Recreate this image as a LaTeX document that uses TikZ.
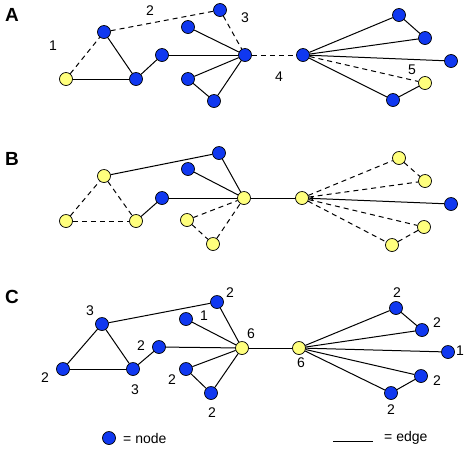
\documentclass[tikz,border=0pt]{standalone}
\usepackage{fontspec}
\setmainfont{Liberation Sans}
\usetikzlibrary{arrows.meta}
\definecolor{nodeblue}{RGB}{16,56,240}
\definecolor{nodeyellow}{RGB}{255,255,125}
\begin{document}
\begin{tikzpicture}
[x=1pt,y=-1pt,
 ed/.style={line width=1pt},
 da/.style={line width=1pt,dash pattern=on 5pt off 4pt},
 bl/.style={draw=black,line width=0.7pt,circle,fill=nodeblue,minimum size=13pt,inner sep=0pt},
 ye/.style={draw=black,line width=0.7pt,circle,fill=nodeyellow,minimum size=13pt,inner sep=0pt},
 lb/.style={font=\fontsize{14}{14}\selectfont,inner sep=0pt},
 pa/.style={font=\fontsize{19}{19}\selectfont\bfseries,inner sep=0pt}]
\useasboundingbox (0,0) rectangle (474,448);

% panel A
\node [pa] at (12,15) (pA) {A};
\node [ye] at (66,79) (A1) {};
\node [bl] at (104,32) (A2) {};
\node [bl] at (136,79) (A3) {};
\node [bl] at (162,55) (A4) {};
\node [bl] at (188,27) (A5) {};
\node [bl] at (220,10) (A6) {};
\node [bl] at (188,79) (A7) {};
\node [bl] at (214,101) (A8) {};
\node [bl] at (245,55) (A9) {};
\node [bl] at (303,55) (A10) {};
\node [bl] at (399,15) (A11) {};
\node [bl] at (425,38) (A12) {};
\node [bl] at (451,61) (A13) {};
\node [ye] at (425,83) (A14) {};
\node [bl] at (393,100) (A15) {};
\node [lb] at (53,46) (lA1) {1};
\node [lb] at (150,11) (lA2) {2};
\node [lb] at (245,18) (lA3) {3};
\node [lb] at (279,77) (lA4) {4};
\node [lb] at (412,70) (lA5) {5};

\draw [da] (A1) -- (A2);
\draw [da] (A2) -- (A6);
\draw [ed] (A1) -- (A3);
\draw [ed] (A2) -- (A3);
\draw [ed] (A3) -- (A4);
\draw [ed] (A4) -- (A9);
\draw [ed] (A5) -- (A9);
\draw [da] (A6) -- (A9);
\draw [ed] (A7) -- (A9);
\draw [ed] (A7) -- (A8);
\draw [ed] (A8) -- (A9);
\draw [da] (A9) -- (A10);
\draw [ed] (A10) -- (A11);
\draw [ed] (A11) -- (A12);
\draw [ed] (A10) -- (A12);
\draw [ed] (A10) -- (A13);
\draw [da] (A10) -- (A14);
\draw [ed] (A10) -- (A15);
\draw [ed] (A15) -- (A14);

% panel B
\node [pa] at (12,159) (pB) {B};
\node [ye] at (66,221) (B1) {};
\node [ye] at (104,176) (B2) {};
\node [ye] at (136,221) (B3) {};
\node [bl] at (162,198) (B4) {};
\node [bl] at (188,169) (B5) {};
\node [bl] at (219,153) (B6) {};
\node [ye] at (187,220) (B7) {};
\node [ye] at (213,244) (B8) {};
\node [ye] at (244,198) (B9) {};
\node [ye] at (302,198) (B10) {};
\node [ye] at (399,158) (B11) {};
\node [ye] at (425,181) (B12) {};
\node [bl] at (451,204) (B13) {};
\node [ye] at (424,227) (B14) {};
\node [ye] at (392,245) (B15) {};

\draw [da] (B1) -- (B2);
\draw [da] (B1) -- (B3);
\draw [da] (B2) -- (B3);
\draw [ed] (B2) -- (B6);
\draw [ed] (B3) -- (B4);
\draw [ed] (B4) -- (B9);
\draw [ed] (B5) -- (B9);
\draw [ed] (B6) -- (B9);
\draw [da] (B7) -- (B9);
\draw [da] (B7) -- (B8);
\draw [da] (B8) -- (B9);
\draw [ed] (B9) -- (B10);
\draw [da] (B10) -- (B11);
\draw [da] (B11) -- (B12);
\draw [da] (B10) -- (B12);
\draw [ed,-{Stealth[length=5pt,width=4pt]}] (B13) -- (B10);
\draw [da] (B10) -- (B14);
\draw [da] (B10) -- (B15);
\draw [da] (B15) -- (B14);

% panel C
\node [pa] at (12,297) (pC) {C};
\node [bl] at (63,369) (C1) {};
\node [bl] at (102,324) (C2) {};
\node [bl] at (133,369) (C3) {};
\node [bl] at (159,347) (C4) {};
\node [bl] at (186,319) (C5) {};
\node [bl] at (217,302) (C6) {};
\node [bl] at (186,369) (C7) {};
\node [bl] at (211,393) (C8) {};
\node [ye] at (242,348) (C9) {};
\node [ye] at (299,348) (C10) {};
\node [bl] at (396,308) (C11) {};
\node [bl] at (422,330) (C12) {};
\node [bl] at (448,352) (C13) {};
\node [bl] at (421,376) (C14) {};
\node [bl] at (391,393) (C15) {};
\node [lb] at (45,378) (lC1) {2};
\node [lb] at (90,311) (lC2) {3};
\node [lb] at (135,390) (lC3) {3};
\node [lb] at (141,346) (lC4) {2};
\node [lb] at (204,316) (lC5) {1};
\node [lb] at (230,293) (lC6) {2};
\node [lb] at (172,380) (lC7) {2};
\node [lb] at (212,413) (lC8) {2};
\node [lb] at (251,334) (lC9) {6};
\node [lb] at (301,363) (lC10) {6};
\node [lb] at (397,293) (lC11) {2};
\node [lb] at (437,323) (lC12) {2};
\node [lb] at (460,351) (lC13) {1};
\node [lb] at (437,381) (lC14) {2};
\node [lb] at (391,410) (lC15) {2};

\draw [ed] (C1) -- (C2);
\draw [ed] (C1) -- (C3);
\draw [ed] (C2) -- (C3);
\draw [ed] (C2) -- (C6);
\draw [ed] (C3) -- (C4);
\draw [ed] (C4) -- (C9);
\draw [ed] (C5) -- (C9);
\draw [ed] (C6) -- (C9);
\draw [ed] (C7) -- (C9);
\draw [ed] (C7) -- (C8);
\draw [ed] (C8) -- (C9);
\draw [ed] (C9) -- (C10);
\draw [ed] (C10) -- (C11);
\draw [ed] (C11) -- (C12);
\draw [ed] (C10) -- (C12);
\draw [ed] (C10) -- (C13);
\draw [ed] (C10) -- (C14);
\draw [ed] (C10) -- (C15);
\draw [ed] (C15) -- (C14);

% legend
\node [bl] at (109,438) (kN) {};
\node [lb,anchor=west] at (123,438) (kNt) {= node};
\coordinate (kE1) at (333,441);
\coordinate (kE2) at (373,441);
\draw [ed] (kE1) -- (kE2);
\node [lb,anchor=west] at (384,438) (kEt) {= edge};
\end{tikzpicture}
\end{document}
